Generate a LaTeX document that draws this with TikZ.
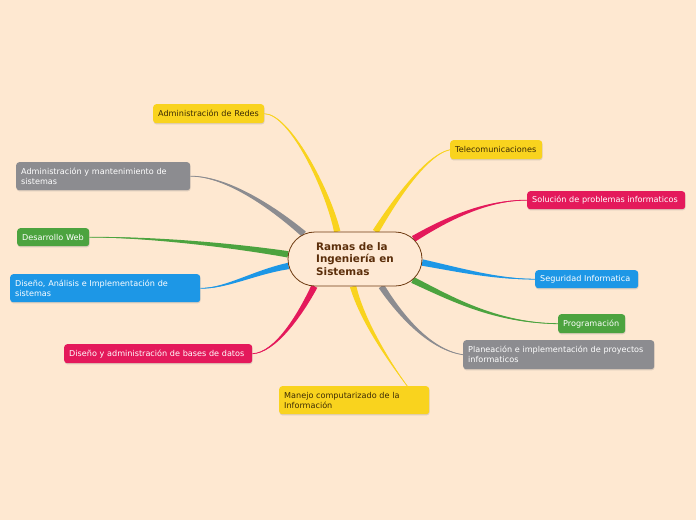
\documentclass[tikz,border=0pt]{standalone}
\usepackage{fontspec}
\setmainfont{DejaVu Sans}
\usetikzlibrary{calc, shapes.misc, shadows}
\definecolor{bgc}{HTML}{FEE8D1}
\definecolor{hubfill}{HTML}{FEE9D4}
\definecolor{hubline}{HTML}{6E3B12}
\definecolor{hubtext}{HTML}{5B2E0A}
\definecolor{yel}{HTML}{F9D31E}
\definecolor{yeltext}{HTML}{3B2A05}
\definecolor{gry}{HTML}{8C8C90}
\definecolor{grn}{HTML}{4CA33F}
\definecolor{blu}{HTML}{1D97E6}
\definecolor{pnk}{HTML}{E4195B}
\pgfdeclarelayer{paper}
\pgfdeclarelayer{links}
\pgfsetlayers{paper,links,main}
\newcommand{\leaffont}{\fontsize{8.1}{10}\selectfont}
\newcommand{\hubfont}{\fontsize{10.4}{12.5}\selectfont\bfseries}
\newcommand{\branch}[5]{%
  \fill[#1] ($(#2)!3.2pt!90:(#3)$) .. controls ($(#3)!2.2pt!90:(#4)$) and ($(#4)!0.9pt!90:(#5)$) .. (#5)
    .. controls ($(#4)!0.9pt!-90:(#5)$) and ($(#3)!2.2pt!-90:(#4)$) .. ($(#2)!3.2pt!-90:(#3)$) -- cycle;
  \draw[#1, line width=0.8pt] (#2) .. controls (#3) and (#4) .. (#5);}
\tikzset{
  leaf/.style={fill=#1, rounded corners=3pt, anchor=north west, inner xsep=5pt, inner ysep=0pt,
    align=left, font=\leaffont, text=white,
    drop shadow={shadow xshift=0.4pt, shadow yshift=-1.2pt, opacity=0.25}},
  hub/.style={rounded rectangle, draw=hubline, line width=0.8pt, fill=hubfill, text=hubtext,
    minimum width=134pt, minimum height=54pt, inner sep=0pt, align=left, font=\hubfont}
}

\begin{document}
\begin{tikzpicture}[x=1pt, y=-1pt]
	\begin{pgfonlayer}{paper}
		\fill[bgc] (0,0) rectangle (696,520);
	\end{pgfonlayer}

	\node[hub] (hub) at (355,259) {Ramas de la\\Ingeniería en\\Sistemas};

	\node[leaf=yel, text=yeltext, text width=101pt, minimum height=19pt] (redes) at (153,104) {Administración de Redes};
	\node[leaf=gry, text width=164pt, minimum height=28pt] (mant) at (16,162) {Administración y mantenimiento de\\sistemas};
	\node[leaf=grn, text width=62pt, minimum height=18pt] (web) at (17,228) {Desarrollo Web};
	\node[leaf=blu, text width=180pt, minimum height=28pt] (dis) at (10,274) {Diseño, Análisis e Implementación de\\sistemas};
	\node[leaf=pnk, text width=178pt, minimum height=19pt] (bases) at (64,344) {Diseño y administración de bases de datos};
	\node[leaf=yel, text=yeltext, text width=140pt, minimum height=28pt] (manejo) at (279,386) {Manejo computarizado de la\\Información};

	\node[leaf=yel, text=yeltext, text width=82pt, minimum height=19pt] (tele) at (450,140) {Telecomunicaciones};
	\node[leaf=pnk, text width=148pt, minimum height=18pt] (sol) at (527,191) {Solución de problemas informaticos};
	\node[leaf=blu, text width=93pt, minimum height=18pt] (seg) at (535,270) {Seguridad Informatica};
	\node[leaf=grn, text width=57pt, minimum height=19pt] (prog) at (558,314) {Programación};
	\node[leaf=gry, text width=181pt, minimum height=29pt] (plan) at (463,340) {Planeación e implementación de proyectos\\informaticos};

	\begin{pgfonlayer}{links}
		\branch{yel}{hub.123}{328,190}{290,114}{redes.east}
		\branch{gry}{hub.154}{270,205}{225,176}{mant.east}
		\branch{grn}{hub.176}{230,245}{150,237}{web.east}
		\branch{blu}{hub.186}{255,272}{225,289}{dis.east}
		\branch{pnk}{hub.214}{300,315}{275,353}{bases.east}
		\branch{yel}{hub.266}{362,320}{388,360}{manejo.15}
		\branch{yel}{hub.53}{392,205}{425,155}{tele.west}
		\branch{pnk}{hub.19}{445,220}{485,200}{sol.west}
		\branch{blu}{hub.357}{460,270}{495,279}{seg.west}
		\branch{grn}{hub.340}{450,298}{495,323}{prog.west}
		\branch{gry}{hub.314}{400,315}{430,350}{plan.west}
	\end{pgfonlayer}
\end{tikzpicture}
\end{document}
